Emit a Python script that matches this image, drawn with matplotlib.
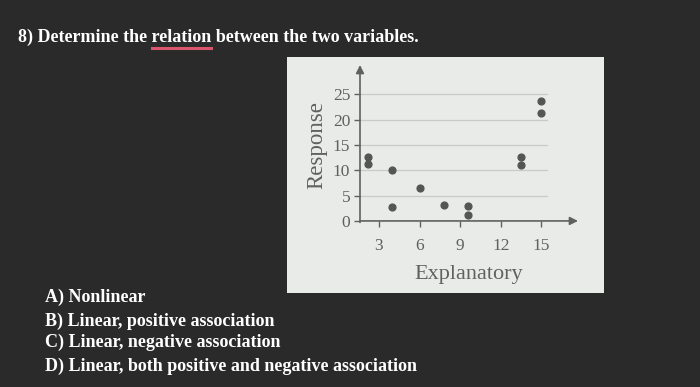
import matplotlib
matplotlib.use("Agg")
import matplotlib.pyplot as plt
from matplotlib.patches import Rectangle

# ---- data ----
explanatory = [2.2, 2.2, 4.0, 4.0, 6.0, 7.8, 9.6, 9.6, 13.5, 13.5, 15.0, 15.0]
response = [12.6, 11.2, 10.1, 2.8, 6.5, 3.2, 3.0, 1.2, 12.7, 11.1, 23.7, 21.4]
x_ticks = [3, 6, 9, 12, 15]
y_ticks = [0, 5, 10, 15, 20, 25]
question = "8) Determine the relation between the two variables."
options = ["A) Nonlinear",
           "B) Linear, positive association",
           "C) Linear, negative association",
           "D) Linear, both positive and negative association"]

W, H = 700, 387
fig = plt.figure(figsize=(7, 3.87), dpi=100)
fig.patch.set_facecolor("#2a2a2a")

# white panel
fig.add_artist(Rectangle((287 / W, 1 - 293 / H), (604 - 287) / W, (293 - 57) / H,
                         transform=fig.transFigure, facecolor="#e9ebe9",
                         edgecolor="none", zorder=0))

serif = ["Liberation Serif", "DejaVu Serif"]
gray = "#606060"

ax = fig.add_axes([360 / W, 1 - 226 / H, (578 - 360) / W, (226 - 65) / H])
ax.set_facecolor("none")
xmin, xmax, ymin, ymax = 1.6, 17.7, -1.0, 30.8
ax.set_xlim(xmin, xmax)
ax.set_ylim(ymin, ymax)
for s in ["top", "right"]:
    ax.spines[s].set_visible(False)
ax.spines["bottom"].set_position(("data", 0))
ax.spines["left"].set_visible(False)
ax.spines["bottom"].set_visible(False)

# axis arrows
ax.annotate("", xy=(xmax, 0), xytext=(xmin, 0),
            arrowprops=dict(arrowstyle="-|>", color=gray, lw=1.2, mutation_scale=12,
                            shrinkA=0, shrinkB=0))
ax.annotate("", xy=(xmin, ymax), xytext=(xmin, -0.3),
            arrowprops=dict(arrowstyle="-|>", color=gray, lw=1.2, mutation_scale=12,
                            shrinkA=0, shrinkB=0))

# gridlines
for yv in y_ticks[1:]:
    ax.plot([xmin, 15.4], [yv, yv], color="#c9cbc9", lw=0.9, zorder=1)

ax.set_xticks(x_ticks)
ax.set_yticks(y_ticks)
ax.tick_params(axis="both", colors=gray, length=4, width=1, labelsize=12.5)
ax.tick_params(axis="x", pad=8)
ax.tick_params(axis="y", pad=3)
for lab in ax.get_xticklabels() + ax.get_yticklabels():
    lab.set_family(serif)
    lab.set_color(gray)

ax.scatter(explanatory, response, s=24, color="#555555", zorder=3)

ax.set_xlabel("Explanatory", fontsize=16, family=serif, color=gray, labelpad=8)
ax.set_ylabel("Response", fontsize=16.5, family=serif, color=gray, labelpad=4)

# question text
qfs = 13
qx, qy = 18 / W, 1 - 42 / H
tq = fig.text(qx, qy, question, fontsize=qfs, fontweight="bold", family=serif,
              color="white", ha="left", va="baseline")
fig.canvas.draw()
r = fig.canvas.get_renderer()
pre = fig.text(qx, qy, "8) Determine the ", fontsize=qfs, fontweight="bold",
               family=serif, alpha=0)
rel = fig.text(qx, qy, "8) Determine the relation", fontsize=qfs, fontweight="bold",
               family=serif, alpha=0)
bb_pre = pre.get_window_extent(r)
bb_rel = rel.get_window_extent(r)
x0 = bb_pre.x1 / W
x1 = bb_rel.x1 / W
fig.add_artist(plt.Line2D([x0, x1], [1 - 47.5 / H, 1 - 47.5 / H], transform=fig.transFigure,
                          color="#d9566e", lw=2.2))

ys = [302, 326, 347, 371]
for txt, yy in zip(options, ys):
    fig.text(45 / W, 1 - yy / H, txt, fontsize=13.0, fontweight="bold", family=serif,
             color="white", ha="left", va="baseline")

fig.savefig("out.png", dpi=100, facecolor=fig.get_facecolor())
